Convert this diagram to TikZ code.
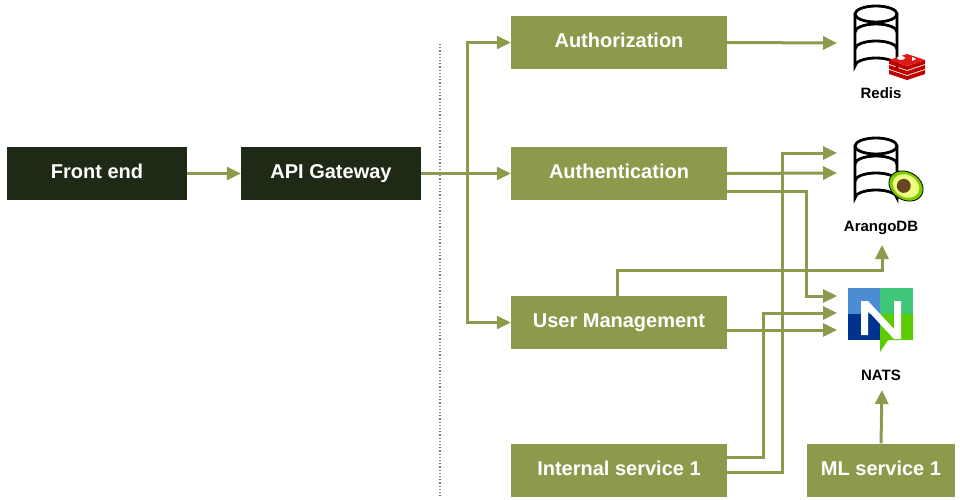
\documentclass[tikz,border=0pt]{standalone}
\usepackage{fontspec}
\setmainfont{Liberation Sans}
\usetikzlibrary{arrows.meta}
\definecolor{gr}{HTML}{8C9A4C}
\definecolor{dk}{HTML}{1E2A16}
\begin{document}
\begin{tikzpicture}[x=1pt,y=-1pt,
  box/.style={fill=gr,text=white,font=\bfseries\fontsize{20}{24}\selectfont,minimum height=53pt,inner sep=0pt,text height=14.5pt,text depth=4pt},
  dbox/.style={box,fill=dk},
  ar/.style={draw=gr,line width=3pt,-{Triangle[length=14pt,width=13pt]}},
  lab/.style={font=\bfseries\fontsize{15}{18}\selectfont}]
\useasboundingbox (0,0) rectangle (960,500);
\node[dbox,minimum width=180pt] (fe) at (97,173.5) {Front end};
\node[dbox,minimum width=180pt] (gw) at (331,173.5) {API Gateway};
\node[box,minimum width=216pt] (az) at (619,42.5) {Authorization};
\node[box,minimum width=216pt] (an) at (619,173.5) {Authentication};
\node[box,minimum width=216pt] (um) at (619,322.5) {User Management};
\node[box,minimum width=216pt] (is) at (619,470) {Internal service 1};
\node[box,minimum width=148pt] (ml) at (881,470) {ML service 1};
\draw[gray,dotted,line width=1.2pt] (440,44) -- (440,497);
% icons
\newcommand{\cyl}[2]{%
 \begin{scope}[shift={(#1,#2)},line width=2.8pt]
  \draw[fill=white] (-21,0) -- (-21,52) arc[start angle=180,end angle=360,x radius=21,y radius=8] -- (21,0);
  \draw[fill=white] (0,0) ellipse[x radius=21,y radius=8];
  \draw (-21,18) arc[start angle=180,end angle=360,x radius=21,y radius=8];
  \draw (-21,35) arc[start angle=180,end angle=360,x radius=21,y radius=8];
 \end{scope}}
\cyl{876}{14}
\cyl{876}{146}
\node[lab] (rd) at (881,93) {Redis};
\node[lab] (ad) at (881,228) {ArangoDB};
\node[lab] (nt) at (881,375) {NATS};
% redis logo
\begin{scope}[shift={(907,58)}]
 \foreach \dy in {10,5,0}{
  \fill[red!75!black] (-18,\dy+2) -- (0,\dy+8) -- (18,\dy+2) -- (18,\dy+6) -- (0,\dy+12) -- (-18,\dy+6) -- cycle;}
 \fill[red!85!black!90!white] (-18,2) -- (0,-4) -- (18,2) -- (0,8) -- cycle;
 \fill[white] (-6,0) ellipse[x radius=4,y radius=2];
 \fill[white] (5,-1) -- (9,1) -- (5,3) -- cycle;
\end{scope}
% avocado
\begin{scope}[shift={(906,186)},rotate=-30]
 \draw[fill=green!40!yellow!80!black,line width=0.8pt] (0,0) ellipse[x radius=18,y radius=14];
 \fill[green!15!yellow!50!white] (0,0) ellipse[x radius=14,y radius=11];
 \fill[brown!55!black] (-2,1) circle[radius=7];
\end{scope}
% NATS logo
\begin{scope}
 \fill[cyan!55!blue!75!white] (848,288) rectangle (880,314);
 \fill[green!40!teal!75!white] (880,288) rectangle (913,314);
 \fill[blue!45!black!80!cyan] (848,314) rectangle (880,340);
 \fill[green!55!yellow!80!black] (880,314) -- (913,314) -- (913,340) -- (888,340) -- (880,352) -- cycle;
 \fill[white] (861,301) -- (868,301) -- (894,329) -- (894,301) -- (901,301) -- (901,339) -- (894,339) -- (868,311) -- (868,335) -- (861,335) -- cycle;
\end{scope}
\coordinate (rdin) at (837,43);
\coordinate (adin1) at (837,153);
\coordinate (adin2) at (837,173);
\coordinate (adb) at (882,245);
\coordinate (nin1) at (837,296);
\coordinate (nin2) at (837,313);
\coordinate (nin3) at (837,330);
\coordinate (nb) at (882,390);
% connectors
\draw[ar] (fe) -- (gw);
\draw[ar] (gw.east) -- (an.west);
\draw[ar] (gw.east) -- (467,173.5) |- (az.west);
\draw[ar] (467,173.5) |- (um.west);
\draw[ar] (az.east) -- (rdin);
\draw[ar] (an.east) -- (adin2);
\draw[ar] (an.east|-0,191) -| (806,296) -- (nin1);
\draw[ar] (is.east|-0,472) -| (782,153) -- (adin1);
\draw[ar] (is.east|-0,457) -| (763,313) -- (nin2);
\draw[ar] (um.east|-0,330) -- (nin3);
\draw[ar] (617,296) |- (882,270) -- (adb);
\draw[ar] (ml.north) -- (nb);
\end{tikzpicture}
\end{document}
